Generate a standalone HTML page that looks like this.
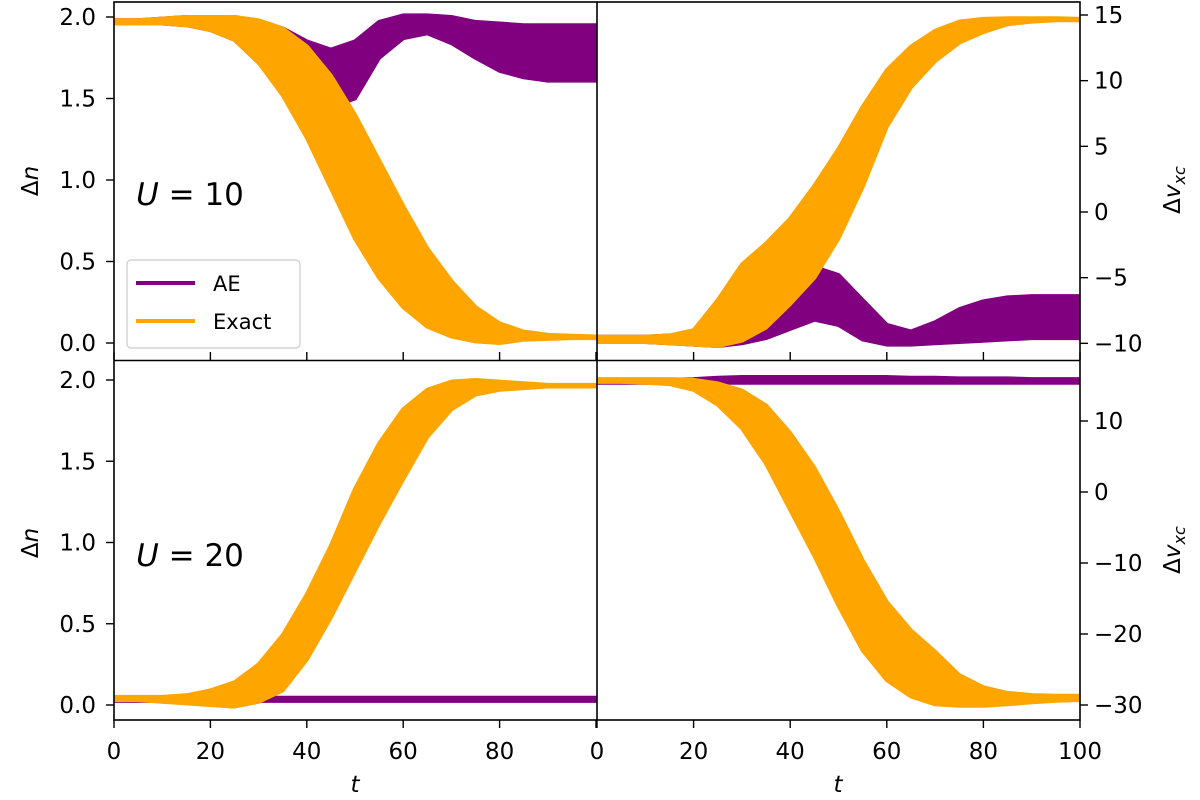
<!DOCTYPE html>
<html><head><meta charset="utf-8"><style>
body{margin:0;background:#fff;}
svg text{font-family:"DejaVu Sans","Liberation Sans",sans-serif;fill:#000;}
</style></head><body>
<svg id="chart" width="1200" height="795" viewBox="0 0 1200 795" xmlns="http://www.w3.org/2000/svg"></svg>
<script>
// Time samples
const tVals = [0,5,10,15,20,25,30,35,40,45,50,55,60,65,70,75,80,85,90,95,100];
// Panel A (U=10, Δn)
const aExactLo = [1.96,1.96,1.96,1.95,1.92,1.86,1.72,1.52,1.26,0.95,0.64,0.4,0.22,0.1,0.04,0.01,0.0,0.02,0.025,0.03,0.03];
const aExactHi = [1.98,1.98,1.99,2.0,2.0,2.0,1.98,1.93,1.82,1.64,1.4,1.12,0.84,0.58,0.38,0.22,0.12,0.07,0.05,0.045,0.04];
const aAELo = [1.96,1.96,1.96,1.95,1.92,1.86,1.72,1.55,1.5,1.45,1.5,1.75,1.87,1.9,1.84,1.75,1.67,1.63,1.61,1.61,1.61];
const aAEHi = [1.98,1.98,1.99,2.0,2.0,2.0,1.97,1.93,1.85,1.8,1.85,1.97,2.01,2.01,2.0,1.97,1.96,1.95,1.95,1.95,1.95];
// Panel B (U=10, Δv_xc)
const bExactLo = [-9.9,-9.9,-9.9,-10,-10.1,-10.2,-9.8,-8.8,-7,-5,-2,1.9,6.5,9.5,11.5,12.9,13.7,14.3,14.5,14.6,14.6];
const bExactHi = [-9.5,-9.5,-9.5,-9.4,-9.0,-6.7,-4.0,-2.4,-0.5,2,4.8,8,10.8,12.6,13.8,14.5,14.7,14.75,14.75,14.75,14.7];
const bAELo = [-9.9,-9.9,-9.9,-10,-10.1,-10.2,-10,-9.6,-8.9,-8.2,-8.6,-9.7,-10.1,-10.1,-10,-9.9,-9.8,-9.7,-9.6,-9.6,-9.6];
const bAEHi = [-9.5,-9.5,-9.5,-9.4,-9.4,-9.6,-9.0,-8.0,-6.5,-4.2,-4.8,-6.7,-8.6,-9.1,-8.4,-7.4,-6.8,-6.5,-6.4,-6.4,-6.4];
// Panel C (U=20, Δn)
const cExactLo = [0.03,0.03,0.02,0.01,0.0,-0.01,0.02,0.09,0.28,0.54,0.83,1.12,1.39,1.65,1.82,1.91,1.94,1.95,1.96,1.96,1.96];
const cExactHi = [0.05,0.05,0.05,0.06,0.09,0.14,0.25,0.43,0.68,0.98,1.33,1.61,1.82,1.94,1.99,2.0,1.99,1.98,1.97,1.97,1.97];
const cAELo = [0.025,0.025,0.025,0.025,0.025,0.025,0.025,0.025,0.025,0.025,0.025,0.025,0.025,0.025,0.025,0.025,0.025,0.025,0.025,0.025,0.025];
const cAEHi = [0.045,0.045,0.045,0.045,0.045,0.045,0.045,0.045,0.045,0.045,0.045,0.045,0.045,0.045,0.045,0.045,0.045,0.045,0.045,0.045,0.045];
// Panel D (U=20, Δv_xc)
const dExactLo = [15.5,15.5,15.4,15.2,14.4,12.3,9,4,-2.5,-9,-16,-22.3,-26.5,-28.8,-29.9,-30.1,-30.1,-29.9,-29.6,-29.4,-29.3];
const dExactHi = [15.9,15.9,15.9,15.9,15.8,15.3,14.3,12.2,8.3,3.4,-2.8,-9.6,-15.5,-19.5,-22.5,-25.8,-27.5,-28.3,-28.6,-28.7,-28.7];
const dAELo = [15.4,15.4,15.4,15.4,15.4,15.4,15.4,15.4,15.4,15.4,15.4,15.4,15.4,15.4,15.4,15.4,15.4,15.4,15.4,15.4,15.4];
const dAEHi = [15.8,15.8,15.8,15.8,15.9,16.1,16.2,16.2,16.2,16.2,16.2,16.2,16.2,16.1,16.1,16.0,16.0,16.0,15.9,15.9,15.9];
// Tick labels
const xTicks = [0,20,40,60,80,100];
const leftYTicks = [0.0,0.5,1.0,1.5,2.0];
const bYTicks = [-10,-5,0,5,10,15];
const dYTicks = [-30,-20,-10,0,10];

const svg = document.getElementById('chart');
const NS = 'http://www.w3.org/2000/svg';
function mk(tag, attrs, parent){const e=document.createElementNS(NS,tag);for(const k in attrs)e.setAttribute(k,attrs[k]);(parent||svg).appendChild(e);return e;}
function lin(d0,d1,r0,r1){return v=>r0+(v-d0)*(r1-r0)/(d1-d0);}

const PURPLE='#800080', ORANGE='#ffa500';
const xL = lin(0,100,114,596), xR = lin(0,100,597,1080);
const panels = [
  {name:'panel-u10-dn', x:xL, y:lin(0,2,343,17), lo:[aAELo,aExactLo], hi:[aAEHi,aExactHi], clip:[114,2,483,358]},
  {name:'panel-u10-dvxc', x:xR, y:lin(0,15,212,15), lo:[bAELo,bExactLo], hi:[bAEHi,bExactHi], clip:[597,2,483,358]},
  {name:'panel-u20-dn', x:xL, y:lin(0,2,705,380), lo:[cAELo,cExactLo], hi:[cAEHi,cExactHi], clip:[114,361,483,359]},
  {name:'panel-u20-dvxc', x:xR, y:lin(0,10,492,421), lo:[dAELo,dExactLo], hi:[dAEHi,dExactHi], clip:[597,361,483,359]},
];
const defs = mk('defs',{});
const seriesNames=['ae','exact'], colors=[PURPLE,ORANGE];
panels.forEach((p,pi)=>{
  const cp = mk('clipPath',{id:'cp'+pi},defs);
  mk('rect',{x:p.clip[0],y:p.clip[1],width:p.clip[2],height:p.clip[3]},cp);
  const g = mk('g',{'clip-path':'url(#cp'+pi+')'});
  
  
  for(let s=0;s<2;s++){
    let pts=[];
    tVals.forEach((t,i)=>pts.push(p.x(t).toFixed(1)+','+p.y(p.hi[s][i]).toFixed(1)));
    for(let i=tVals.length-1;i>=0;i--) pts.push(p.x(tVals[i]).toFixed(1)+','+p.y(p.lo[s][i]).toFixed(1));
    const poly = mk('polygon',{points:pts.join(' '),fill:colors[s],stroke:colors[s],'stroke-width':4,'stroke-linejoin':'round'},g);
    
    
  }
});
const f=mk('rect',{x:114,y:2,width:966,height:718,fill:'none',stroke:'#000','stroke-width':1.6});


const hl=mk('line',{x1:114,x2:1080,y1:360.5,y2:360.5,stroke:'#000','stroke-width':1.6});


const vl=mk('line',{x1:597,x2:597,y1:2,y2:720,stroke:'#000','stroke-width':1.6});



const FS=23;
xTicks.forEach(t=>{
  [xL,xR].forEach((xs,k)=>{
    const x=xs(t);
    mk('line',{x1:x,x2:x,y1:360,y2:352,stroke:'#000','stroke-width':1.4});
    mk('line',{x1:x,x2:x,y1:720,y2:728,stroke:'#000','stroke-width':1.4});
    if(k===0 && t===100) return;
    const tx=mk('text',{x:x,y:759,'font-size':FS,'text-anchor':'middle'});
    tx.textContent=String(t);
    
    
  });
});
function yTicks(ticks, ys, side){
  ticks.forEach(v=>{
    const y=ys(v);
    if(side==='l'){
      mk('line',{x1:114,x2:106,y1:y,y2:y,stroke:'#000','stroke-width':1.4});
      const tx=mk('text',{x:96,y:y+8,'font-size':FS,'text-anchor':'end'});
      tx.textContent=v.toFixed(1);
      
      
    } else {
      mk('line',{x1:1080,x2:1088,y1:y,y2:y,stroke:'#000','stroke-width':1.4});
      const tx=mk('text',{x:1094,y:y+8,'font-size':FS,'text-anchor':'start'});
      tx.textContent=String(v).replace('-','\u2212');
      
      
    }
  });
}
yTicks(leftYTicks,panels[0].y,'l');
yTicks(leftYTicks,panels[2].y,'l');
yTicks(bYTicks,panels[1].y,'r');
yTicks(dYTicks,panels[3].y,'r');

function label(txt,x,y,rot,name,size,italic){
  const t=mk('text',{x:x,y:y,'font-size':size||FS,'text-anchor':'middle',transform:rot?`rotate(${rot} ${x} ${y})`:''});
  t.innerHTML=txt;
  if(italic) t.setAttribute('font-style','italic');
  
  
}
label('Δ<tspan font-style="italic">n</tspan>',38,181,-90,'y-axis-title-top');
label('Δ<tspan font-style="italic">n</tspan>',38,543,-90,'y-axis-title-bottom');
label('Δ<tspan font-style="italic">v</tspan><tspan font-size="16" dy="5" font-style="italic">xc</tspan>',1180,190,-90,'y2-axis-title-top');
label('Δ<tspan font-style="italic">v</tspan><tspan font-size="16" dy="5" font-style="italic">xc</tspan>',1180,550,-90,'y2-axis-title-bottom');
label('t',355,792,0,'x-axis-title-left',FS,true);
label('t',838,792,0,'x-axis-title-right',FS,true);
label('<tspan font-style="italic">U</tspan> = 10',190,205,0,'u10-annotation',31);
label('<tspan font-style="italic">U</tspan> = 20',190,566,0,'u20-annotation',31);

const lg=mk('g',{});


mk('rect',{x:127,y:260,width:173,height:88,rx:4,fill:'#fff','fill-opacity':0.8,stroke:'#ccc','stroke-width':1.2},lg);
[['AE',PURPLE,283],['Exact',ORANGE,321]].forEach(e=>{
  const l=mk('line',{x1:136,x2:195,y1:e[2],y2:e[2],stroke:e[1],'stroke-width':4},lg);
  
  
  const t=mk('text',{x:213,y:e[2]+8,'font-size':21},lg);
  t.textContent=e[0];
  
  
});
</script>
</body></html>
